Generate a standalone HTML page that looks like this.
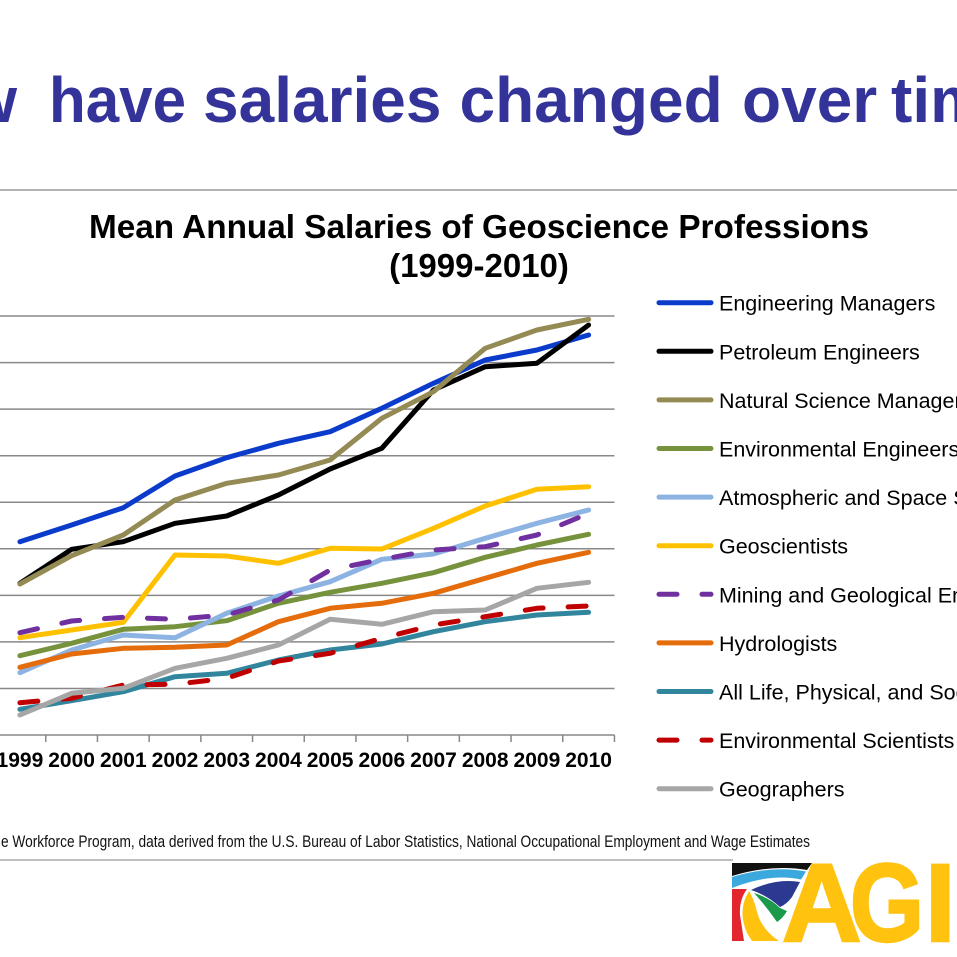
<!DOCTYPE html>
<html>
<head>
<meta charset="utf-8">
<style>
  html, body { margin:0; padding:0; background:#ffffff; }
  body { width:957px; height:957px; overflow:hidden; }
  svg { display:block; }
</style>
</head>
<body>
<svg width="957" height="957" viewBox="0 0 957 957" xmlns="http://www.w3.org/2000/svg" font-family="'Liberation Sans', Arial, sans-serif">
  <rect width="957" height="957" fill="#ffffff"/>

  <!-- Slide title -->
  <g font-size="64" font-weight="bold" fill="#333399">
    <text x="17" y="122" text-anchor="end">How</text>
    <text x="49" y="122" textLength="137" lengthAdjust="spacingAndGlyphs">have</text>
    <text x="203" y="122">salaries</text>
    <text x="459.5" y="122">changed</text>
    <text x="742" y="122">over</text>
    <text x="891" y="122">time?</text>
  </g>

  <!-- separator lines -->
  <line x1="0" y1="190" x2="957" y2="190" stroke="#9a9a9a" stroke-width="1.5"/>
  <line x1="0" y1="860" x2="733" y2="860" stroke="#a8a8a8" stroke-width="1.5"/>

  <!-- Chart title -->
  <g font-size="33" font-weight="bold" fill="#000000" text-anchor="middle">
    <text x="479" y="238" textLength="780" lengthAdjust="spacingAndGlyphs">Mean Annual Salaries of Geoscience Professions</text>
    <text x="479" y="277">(1999-2010)</text>
  </g>

  <!-- Gridlines -->
  <g stroke="#888888" stroke-width="1.5">
    <line x1="0" y1="316.05" x2="614.5" y2="316.05"/>
    <line x1="0" y1="362.6" x2="614.5" y2="362.6"/>
    <line x1="0" y1="409.15" x2="614.5" y2="409.15"/>
    <line x1="0" y1="455.7" x2="614.5" y2="455.7"/>
    <line x1="0" y1="502.25" x2="614.5" y2="502.25"/>
    <line x1="0" y1="548.8" x2="614.5" y2="548.8"/>
    <line x1="0" y1="595.35" x2="614.5" y2="595.35"/>
    <line x1="0" y1="641.9" x2="614.5" y2="641.9"/>
    <line x1="0" y1="688.45" x2="614.5" y2="688.45"/>
    <line x1="0" y1="735" x2="614.5" y2="735"/>
    <!-- ticks -->
    <line x1="45.75" y1="735" x2="45.75" y2="742"/>
    <line x1="97.45" y1="735" x2="97.45" y2="742"/>
    <line x1="149.15" y1="735" x2="149.15" y2="742"/>
    <line x1="200.85" y1="735" x2="200.85" y2="742"/>
    <line x1="252.55" y1="735" x2="252.55" y2="742"/>
    <line x1="304.25" y1="735" x2="304.25" y2="742"/>
    <line x1="355.95" y1="735" x2="355.95" y2="742"/>
    <line x1="407.65" y1="735" x2="407.65" y2="742"/>
    <line x1="459.35" y1="735" x2="459.35" y2="742"/>
    <line x1="511.05" y1="735" x2="511.05" y2="742"/>
    <line x1="562.75" y1="735" x2="562.75" y2="742"/>
    <line x1="614.45" y1="735" x2="614.45" y2="742"/>
  </g>

  <!-- X axis labels -->
  <g font-size="21" font-weight="bold" fill="#000000" text-anchor="middle">
    <text x="19.9" y="767">1999</text>
    <text x="71.6" y="767">2000</text>
    <text x="123.3" y="767">2001</text>
    <text x="175" y="767">2002</text>
    <text x="226.7" y="767">2003</text>
    <text x="278.4" y="767">2004</text>
    <text x="330.1" y="767">2005</text>
    <text x="381.8" y="767">2006</text>
    <text x="433.5" y="767">2007</text>
    <text x="485.2" y="767">2008</text>
    <text x="536.9" y="767">2009</text>
    <text x="588.6" y="767">2010</text>
  </g>

  <!-- Series -->
  <g fill="none" stroke-width="5" stroke-linejoin="round" stroke-linecap="round">
    <polyline stroke="#0B3BCB" points="19.9,541.7 71.6,525 123.3,507.7 175,476 226.7,457.7 278.4,443.3 330.1,431.7 381.8,408.3 433.5,383.3 485.2,360 536.9,350 588.6,335"/>
    <polyline stroke="#000000" points="19.9,583.3 71.6,549.3 123.3,541.7 175,523.3 226.7,516 278.4,495 330.1,469 381.8,448.3 433.5,390 485.2,366.7 536.9,363.3 588.6,325"/>
    <polyline stroke="#948A54" points="19.9,584 71.6,555.7 123.3,535 175,500 226.7,483.3 278.4,475 330.1,460 381.8,418.3 433.5,391.7 485.2,348.3 536.9,330 588.6,319.3"/>
    <polyline stroke="#76923C" points="19.9,655.7 71.6,643.3 123.3,629.3 175,626.7 226.7,620.7 278.4,603.3 330.1,592.3 381.8,583.3 433.5,572.7 485.2,557.3 536.9,545 588.6,534.3"/>
    <polyline stroke="#8DB3E2" points="19.9,672.7 71.6,650 123.3,635 175,637.7 226.7,613.3 278.4,596 330.1,581.7 381.8,559.3 433.5,554 485.2,538.3 536.9,523.3 588.6,510"/>
    <polyline stroke="#FFC000" points="19.9,637.7 71.6,630 123.3,622.3 175,555 226.7,556 278.4,563.3 330.1,548.3 381.8,549 433.5,528.3 485.2,506 536.9,489.3 588.6,486.7"/>
    <polyline stroke="#7030A0" stroke-dasharray="18 25" points="19.9,632.7 71.6,621 123.3,617.3 175,619.3 226.7,615 278.4,600 330.1,570 381.8,559.3 433.5,550 485.2,546.7 536.9,535 588.6,513.3"/>
    <polyline stroke="#E46C0A" points="19.9,667.3 71.6,654 123.3,648.3 175,647.3 226.7,645 278.4,621.7 330.1,608.3 381.8,603.3 433.5,593.3 485.2,578.3 536.9,563.3 588.6,552.3"/>
    <polyline stroke="#31859C" points="19.9,709.3 71.6,700.7 123.3,691.7 175,676.7 226.7,673.3 278.4,660 330.1,650 381.8,644 433.5,631.7 485.2,621.7 536.9,615 588.6,612.3"/>
    <polyline stroke="#C00000" stroke-dasharray="18 25" points="19.9,702.7 71.6,698.3 123.3,685 175,684.3 226.7,678.3 278.4,661 330.1,653.3 381.8,638.3 433.5,625 485.2,616.7 536.9,608.3 588.6,606"/>
    <polyline stroke="#A6A6A6" points="19.9,715 71.6,693.3 123.3,688.3 175,668.3 226.7,658.3 278.4,645 330.1,619.3 381.8,624.3 433.5,611.7 485.2,610 536.9,588.3 588.6,582.3"/>
  </g>

  <!-- Legend -->
  <g stroke-width="5" stroke-linecap="round">
    <line x1="659" y1="302.7" x2="711" y2="302.7" stroke="#0B3BCB"/>
    <line x1="659" y1="351.3" x2="711" y2="351.3" stroke="#000000"/>
    <line x1="659" y1="399.9" x2="711" y2="399.9" stroke="#948A54"/>
    <line x1="659" y1="448.5" x2="711" y2="448.5" stroke="#76923C"/>
    <line x1="659" y1="497.1" x2="711" y2="497.1" stroke="#8DB3E2"/>
    <line x1="659" y1="545.7" x2="711" y2="545.7" stroke="#FFC000"/>
    <line x1="659" y1="594.3" x2="711" y2="594.3" stroke="#7030A0" stroke-dasharray="18 25"/>
    <line x1="659" y1="642.9" x2="711" y2="642.9" stroke="#E46C0A"/>
    <line x1="659" y1="691.5" x2="711" y2="691.5" stroke="#31859C"/>
    <line x1="659" y1="740.1" x2="711" y2="740.1" stroke="#C00000" stroke-dasharray="18 25"/>
    <line x1="659" y1="788.7" x2="711" y2="788.7" stroke="#A6A6A6"/>
  </g>
  <g font-size="21.5" fill="#000000">
    <text x="719" y="310.7">Engineering Managers</text>
    <text x="719" y="359.3">Petroleum Engineers</text>
    <text x="719" y="407.9">Natural Science Managers</text>
    <text x="719" y="456.5">Environmental Engineers</text>
    <text x="719" y="505.1">Atmospheric and Space Scientists</text>
    <text x="719" y="553.7">Geoscientists</text>
    <text x="719" y="602.3">Mining and Geological Engineers</text>
    <text x="719" y="650.9">Hydrologists</text>
    <text x="719" y="699.5">All Life, Physical, and Social Science Occupations</text>
    <text x="719" y="748.1">Environmental Scientists and Specialists</text>
    <text x="719" y="796.7">Geographers</text>
  </g>

  <!-- Source text -->
  <text x="1" y="847" font-size="16.5" fill="#111111" textLength="809" lengthAdjust="spacingAndGlyphs">e Workforce Program, data derived from the U.S. Bureau of Labor Statistics, National Occupational Employment and Wage Estimates</text>

  <!-- AGI logo -->
  <g>
    <path d="M732,863 L812,863 L807,870 Q772,864 732,876 Z" fill="#111111"/>
    <path d="M732,877 Q772,865 806,871.5 L801,879.5 Q770,873 732,888 Z" fill="#3BA9DE"/>
    <path d="M751,890 Q776,878 800,882 L792,897 Q787,904 780,907 Q767,895 751,890 Z" fill="#2B3990"/>
    <path d="M754,893 Q770,898 780,908 L787,911 Q783,918 777,922 Q766,906 754,893 Z" fill="#1A9A4A"/>
    <path d="M732,889 L747,889 Q739,900 740,915 L744,941 L732,941 Z" fill="#E3262E"/>
    <path d="M749,891 Q737,910 747,933 L752,941 L779,941 Q762,930 757,912 Q754,899 749,891 Z" fill="#FFC20E"/>
    <g font-size="110" font-weight="bold" fill="#FFC20E" stroke="#FFC20E" stroke-width="2.5">
      <text x="782" y="941">A</text>
      <text x="850" y="941" textLength="74" lengthAdjust="spacingAndGlyphs">G</text>
      <text x="925" y="941">I</text>
    </g>
  </g>
</svg>
</body>
</html>
